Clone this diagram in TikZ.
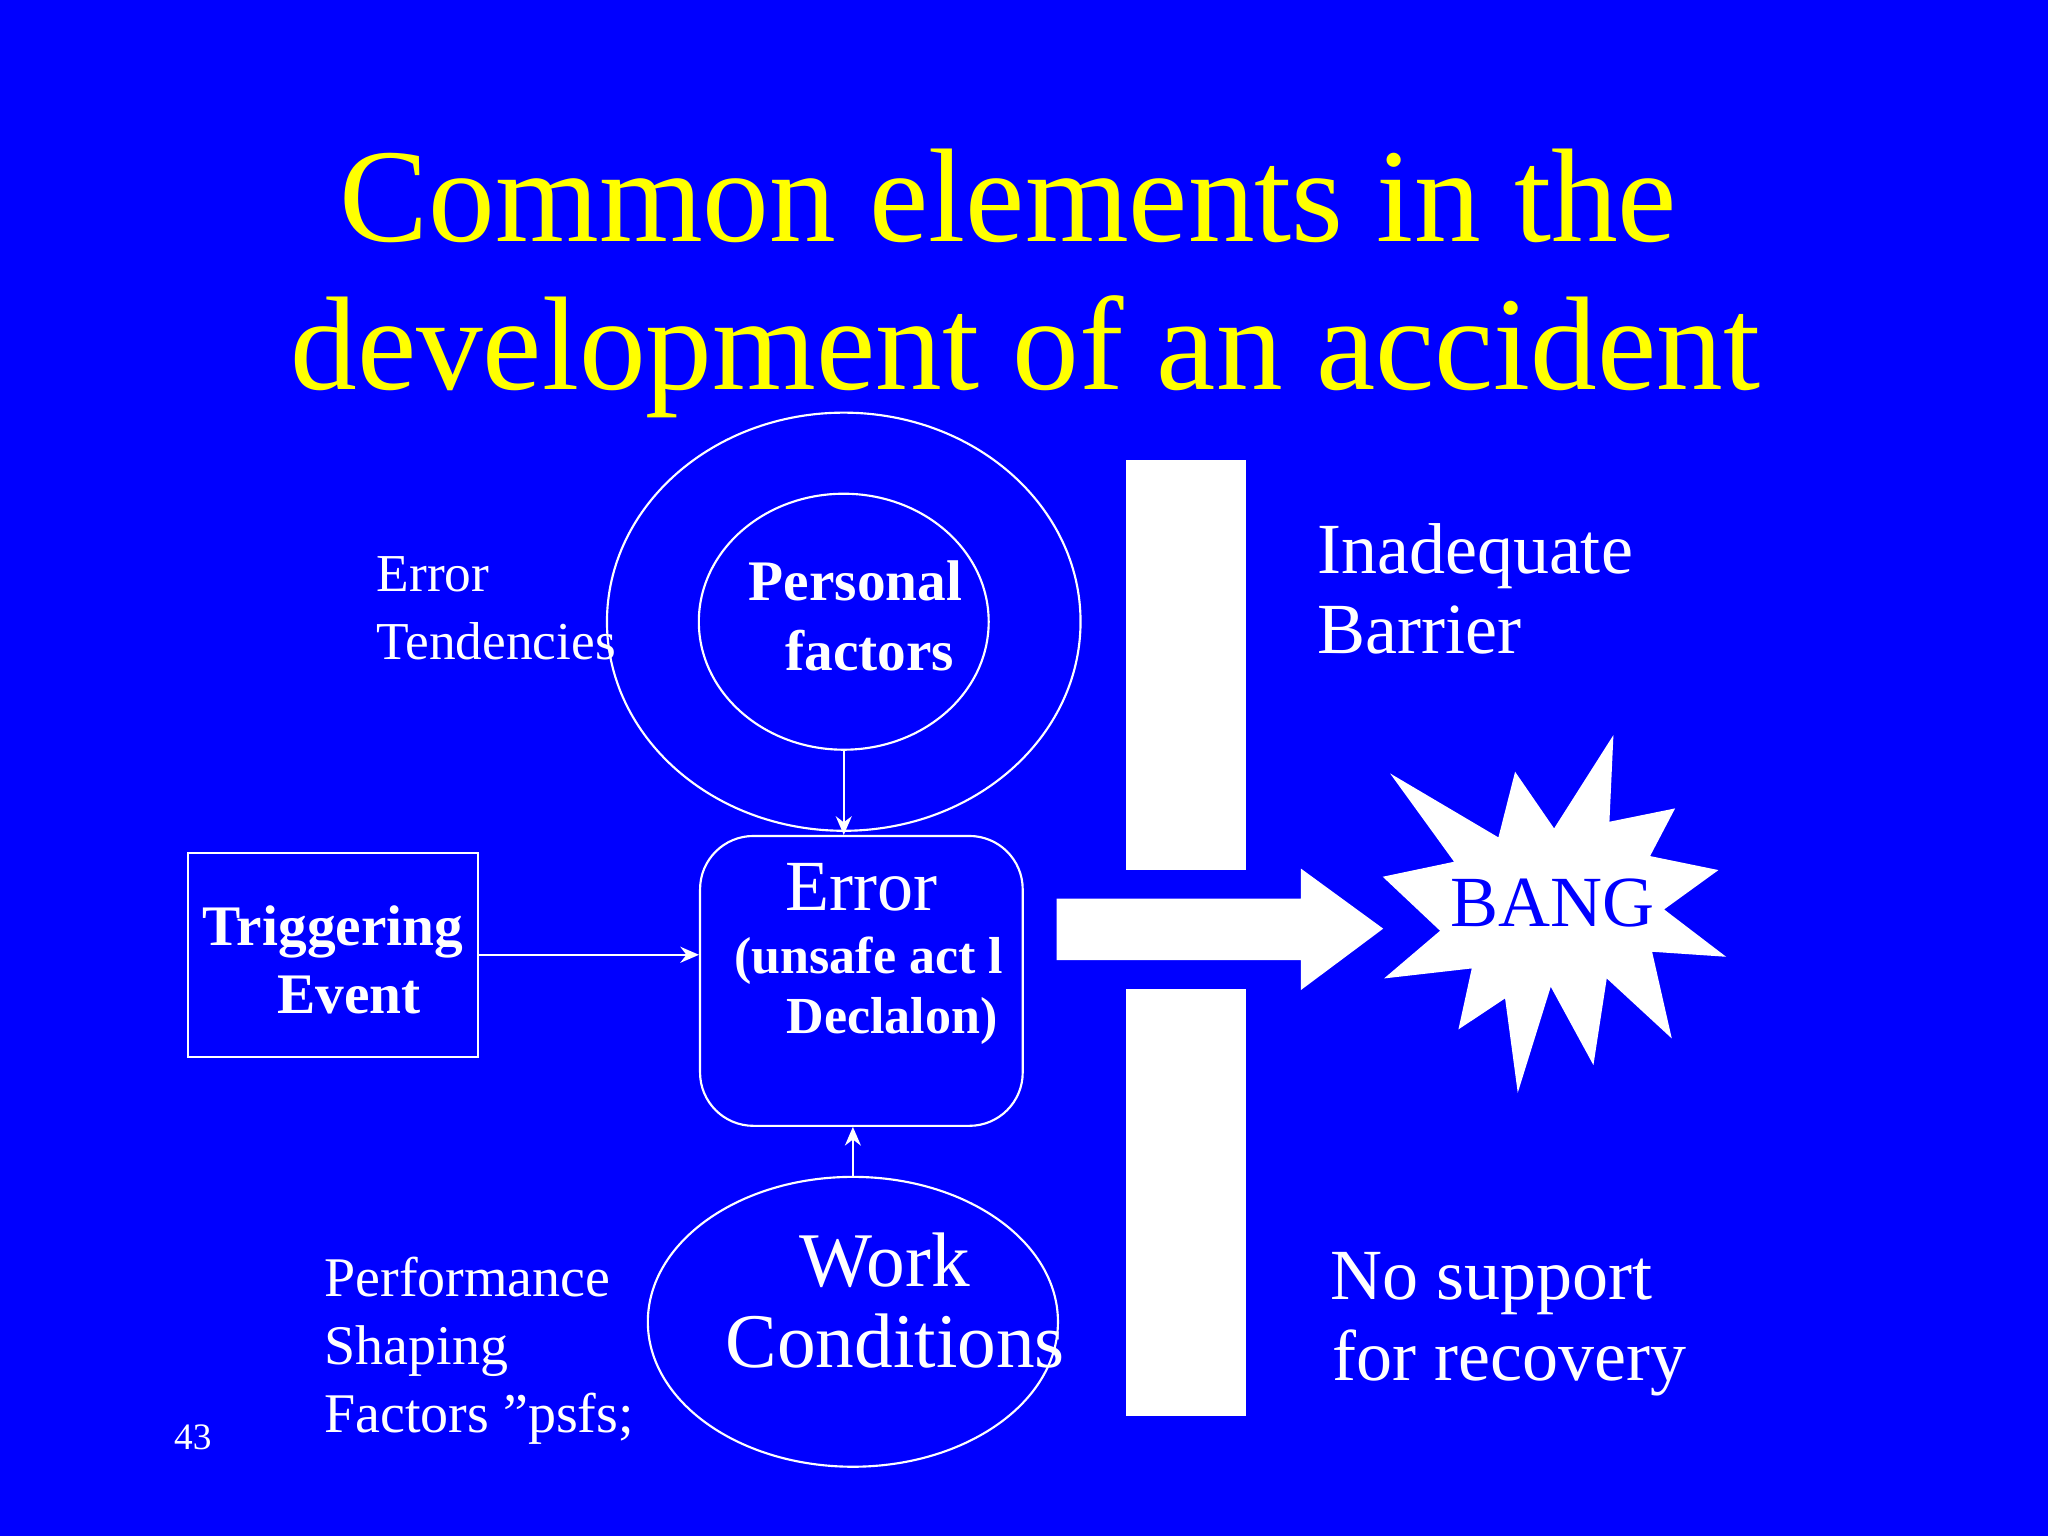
\documentclass[tikz,border=0pt]{standalone}
\usepackage{fontspec}
\setmainfont{Liberation Serif}
\usetikzlibrary{shapes.geometric,arrows.meta}
\definecolor{bg}{RGB}{0,0,255}
\definecolor{ttl}{RGB}{255,255,0}
\begin{document}
\begin{tikzpicture}[x=0.4898pt,y=-0.4898pt,
  txt/.style={anchor=base west,inner sep=0,text=white},
  ln/.style={draw=white,line width=0.8pt},
  arr/.style={ln,-{Stealth[length=7pt,width=6pt]}}]
\fill[bg] (0,0) rectangle (1568,1176);
\useasboundingbox (0,0) rectangle (1568,1176);
% title
\node[anchor=base,inner sep=0,text=ttl,font=\fontsize{50}{50}\selectfont] (t1) at (772,185) {Common elements in the};
\node[anchor=base,inner sep=0,text=ttl,font=\fontsize{50}{50}\selectfont] (t2) at (785,298) {development of an accident};
% shapes
\node[ellipse,ln,minimum width=222\pgflinewidth,minimum height=196\pgflinewidth] (pf) at (646,476) {};
\node[draw=white,ellipse,line width=0.8pt,minimum width=108.7pt,minimum height=96pt] (pf) at (646,476) {};
\node[draw=white,rounded corners=20pt,line width=0.8pt,minimum width=121pt,minimum height=108.7pt] (err) at (659.5,751) {};
\node[draw=white,line width=0.8pt,minimum width=108.7pt,minimum height=76.4pt] (trig) at (255,731) {};
\node[draw=white,ellipse,line width=0.8pt,minimum width=153.8pt,minimum height=108.7pt] (wc) at (653,1012) {};
\draw[arr] (pf.south) -- (pf.south |- err.north);
\draw[arr] (trig.east) -- (trig.east -| err.west);
\draw[arr] (wc.north) -- (wc.north |- err.south);
% barriers
\fill[white] (862,352) rectangle (954,666);
\fill[white] (862,757) rectangle (954,1084);
\node[inner sep=0] (bar) at (908,711) {};
\fill[white] (809,688) -- (996,688) -- (996,665) -- (1059,711) -- (996,758) -- (996,735) -- (809,735) -- cycle;
% star
\begin{scope}[shift={(1041.3,551.3)},scale=0.25523]
\fill[white] (760,45) -- (748,305) -- (945,265) -- (870,408) -- (1075,450) -- (912,568) -- (1098,710) -- (876,695) -- (935,955) -- (740,775) -- (700,1035) -- (572,800) -- (473,1118) -- (435,835) -- (295,928) -- (335,745) -- (72,775) -- (240,632) -- (68,470) -- (282,425) -- (90,160) -- (415,352) -- (465,155) -- (582,325) -- cycle;
\end{scope}
\node[txt,text=bg,font=\fontsize{27}{27}\selectfont] (bang) at (1110,709) {BANG};
% texts
\begin{scope}[font=\fontsize{20}{20}\selectfont]
\node[txt] (et1) at (288,453) {Error};
\node[txt] (et2) at (288,505) {Tendencies};
\end{scope}
\begin{scope}[font=\fontsize{21.5}{21.5}\selectfont\bfseries]
\node[txt] (p1) at (573,460) {Personal};
\node[txt] (p2) at (601,513) {factors};
\node[txt] (tr1) at (155,724) {Triggering};
\node[txt] (tr2) at (212,776) {Event};
\end{scope}
\node[txt,font=\fontsize{27}{27}\selectfont] (e1) at (601,697) {Error};
\begin{scope}[font=\fontsize{19.5}{19.5}\selectfont\bfseries]
\node[txt] (e2) at (562,745) {(unsafe act l};
\node[txt] (e3) at (602,791) {Declalon)};
\end{scope}
\begin{scope}[font=\fontsize{29}{29}\selectfont]
\node[txt] (w1) at (612,985) {Work};
\node[txt] (w2) at (555,1047) {Conditions};
\end{scope}
\begin{scope}[font=\fontsize{21}{21}\selectfont]
\node[txt] (ps1) at (248,993) {Performance};
\node[txt] (ps2) at (248,1045) {Shaping};
\node[txt] (ps3) at (248,1097) {Factors ”psfs;};
\end{scope}
\node[txt,font=\fontsize{14}{14}\selectfont] (num) at (133,1110) {43};
\begin{scope}[font=\fontsize{27}{27}\selectfont]
\node[txt] (ib1) at (1008,439) {Inadequate};
\node[txt] (ib2) at (1008,500) {Barrier};
\node[txt] (ns1) at (1018,995) {No support};
\node[txt] (ns2) at (1020,1057) {for recovery};
\end{scope}
\end{tikzpicture}
\end{document}
